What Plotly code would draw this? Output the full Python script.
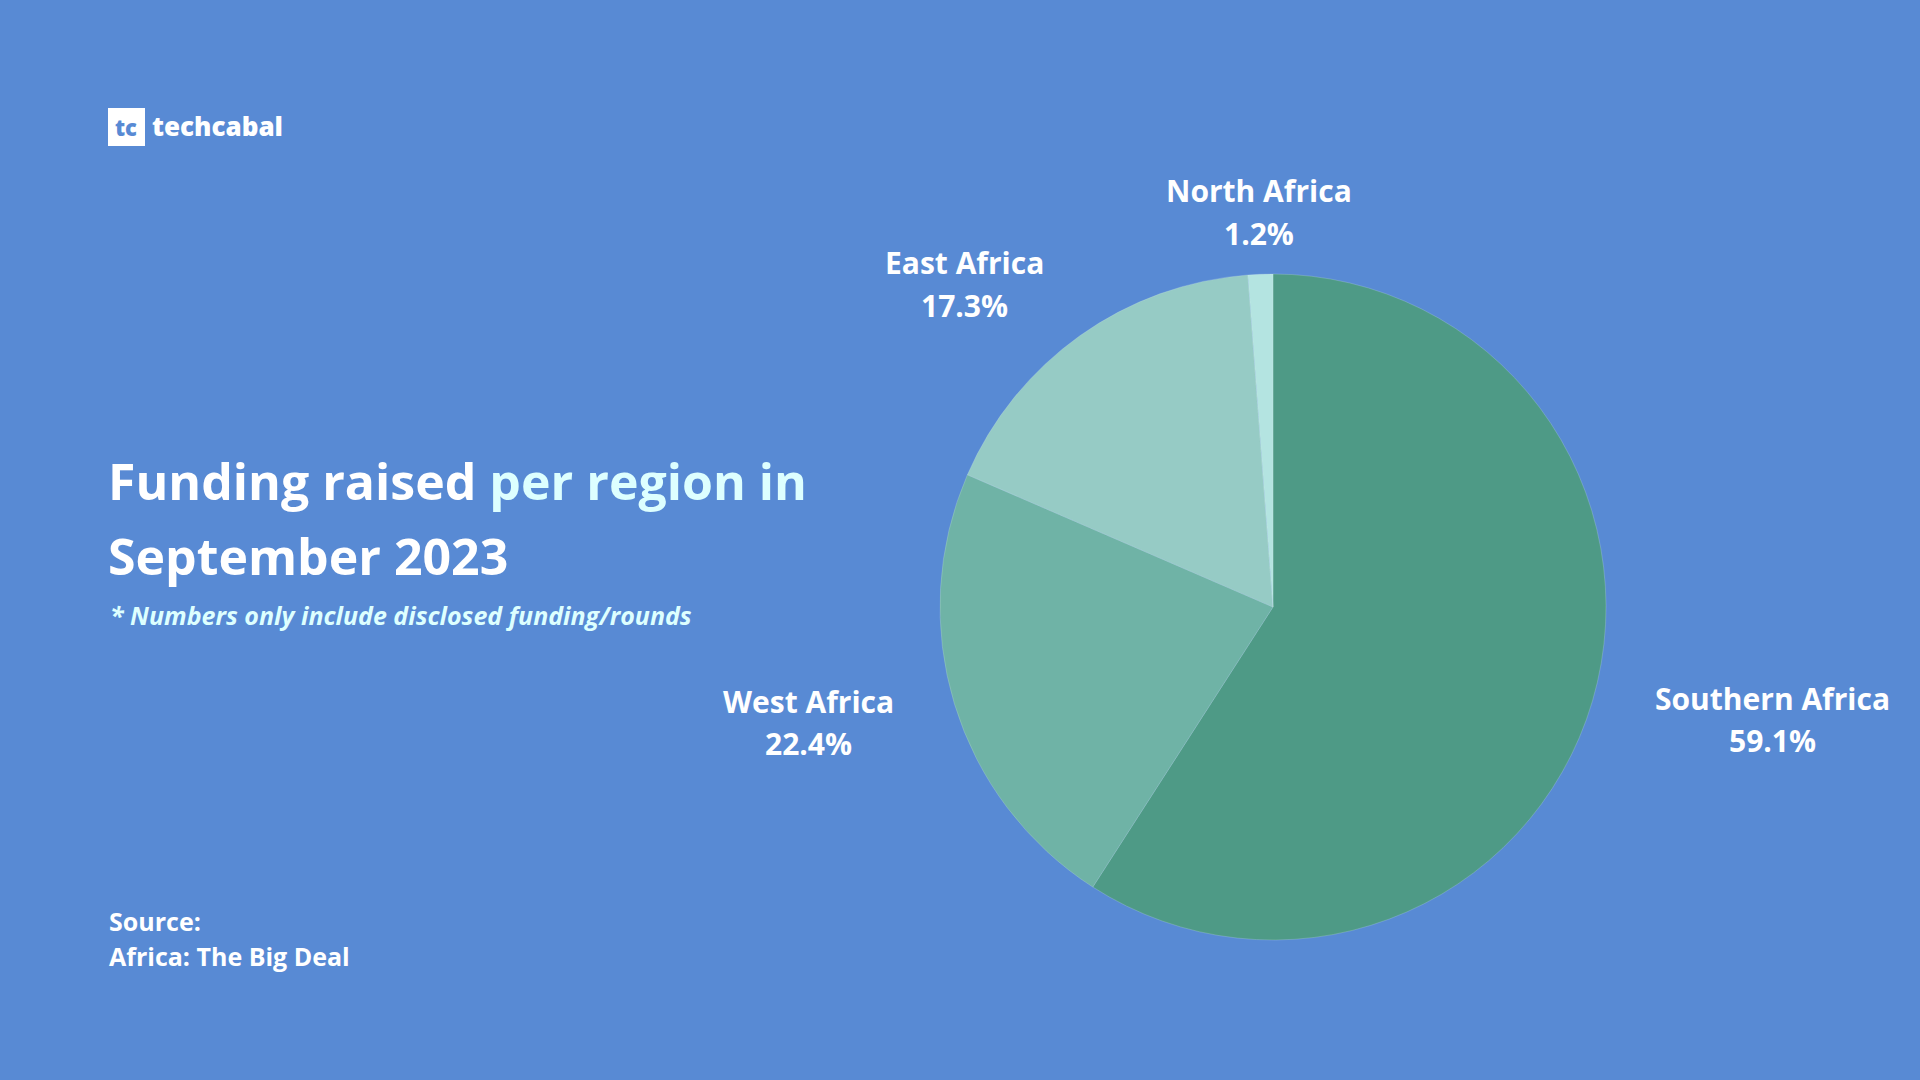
import plotly.graph_objects as go

regions = ["Southern Africa", "West Africa", "East Africa", "North Africa"]
shares = [59.1, 22.4, 17.3, 1.2]
colors = ["#4E9A86", "#6FB3A6", "#96CBC5", "#B4E4E1"]

W, H = 1920, 1080
BG = "#588AD4"
FONT = "Open Sans"

fig = go.Figure()
fig.add_trace(go.Pie(
    labels=regions, values=shares, sort=False, direction="clockwise", rotation=0,
    marker=dict(colors=colors, line=dict(color="rgba(220,240,240,0.35)", width=0.6)),
    textinfo="none", hoverinfo="label+percent", showlegend=False,
    domain=dict(x=[940 / W, 1606 / W], y=[1 - 940 / H, 1 - 274 / H]),
))

def px(x, y):
    return x / W, 1 - y / H

annotations = []
def add(text, x, y, size, color="white", weight=700, xanchor="left", italic=False, family=FONT):
    ax, ay = px(x, y)
    annotations.append(dict(
        text=text, x=ax, y=ay, xref="paper", yref="paper", xanchor=xanchor, yanchor="middle",
        showarrow=False, align="center" if xanchor == "center" else "left",
        font=dict(family=family, size=size, color=color, weight=weight,
                  style="italic" if italic else "normal"),
    ))

# logo
add("techcabal", 150, 126, 26, weight=800)
add("tc", 126, 127, 22, color=BG, weight=800, xanchor="center")

# title
add("Funding raised <span style='color:#DDFFFF'>per region in</span>", 106, 481, 50, weight=700)
add("September 2023", 106, 556, 50, weight=700)
add("* Numbers only include disclosed funding/rounds", 108, 615, 25, color="#DDFFFF", weight=700, italic=True)

# source
add("Source:", 107, 921, 25, weight=700)
add("Africa: The Big Deal", 107, 956, 25, weight=700)

# slice labels (name and percentage as two lines, slightly wider gap)
label_pos = {
    "Southern Africa": (1772, 719),
    "West Africa": (808, 722),
    "East Africa": (964, 284),
    "North Africa": (1259, 212),
}
for r, s in zip(regions, shares):
    x, y = label_pos[r]
    add(r, x, y - 21, 30, weight=700, xanchor="center")
    add(f"{s:.1f}%", x, y + 21, 30, weight=700, xanchor="center")

fig.update_layout(
    width=W, height=H, margin=dict(l=0, r=0, t=0, b=0),
    paper_bgcolor=BG, plot_bgcolor=BG,
    annotations=annotations,
    shapes=[dict(type="rect", xref="paper", yref="paper",
                 x0=108 / W, x1=145 / W, y0=1 - 146 / H, y1=1 - 108 / H,
                 fillcolor="white", line=dict(width=0), layer="below")],
)
fig.write_html("out.html")
